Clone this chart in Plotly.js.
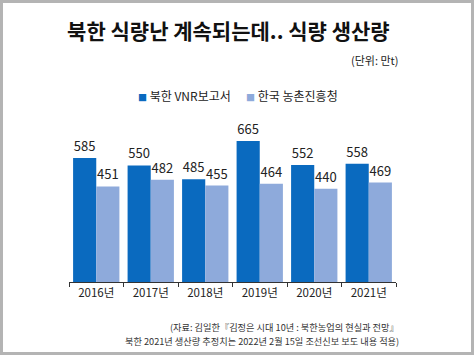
<!DOCTYPE html>
<html>
<head>
<meta charset="utf-8">
<script src="https://cdn.plot.ly/plotly-3.0.1.min.js"></script>
<style>
html,body{margin:0;padding:0;background:#fff;}
#wrap{position:relative;width:474px;height:355px;}
#chart{position:absolute;left:0;top:0;width:474px;height:355px;}
#frame{position:absolute;left:0;top:0;width:474px;height:355px;box-sizing:border-box;border:3px solid #b4b4b4;pointer-events:none;}
</style>
</head>
<body>
<div id="wrap"><div id="chart"></div><div id="frame"></div></div>
<script>
const categories = ['2016년','2017년','2018년','2019년','2020년','2021년'];
const seriesNames = ['북한 VNR보고서','한국 농촌진흥청'];
const northVNR = [585, 550, 485, 665, 552, 558];
const southRDA = [451, 482, 455, 464, 440, 469];
const colors = ['#0a6abf', '#8eaadb'];
const FONT = '"Noto Sans CJK KR", "Noto Sans", sans-serif';

const makeTrace = (vals, i) => ({
  type: 'bar',
  x: categories,
  y: vals,
  name: seriesNames[i],
  marker: {color: colors[i]},
  text: vals.map(String),
  textposition: 'outside',
  cliponaxis: false,
  textfont: {family: FONT, size: 13, color: '#222'},
  hoverinfo: 'none',
  showlegend: false
});

const data = [makeTrace(northVNR, 0), makeTrace(southRDA, 1)];

const legendAnn = [];
const legendX = [136, 244];
seriesNames.forEach((n, i) => {
  legendAnn.push({xref:'paper', yref:'paper', x: (legendX[i]-69)/327, y: 0, yshift: 282-95, xanchor:'left', yanchor:'middle',
    text: '<span style="color:'+colors[i]+';font-size:9px">■</span> ' + n, showarrow:false,
    font:{family: FONT, size: 12, color:'#222'}});
});

const layout = {
  width: 474, height: 355,
  margin: {l: 69, r: 78, t: 105, b: 73},
  paper_bgcolor: '#fff', plot_bgcolor: '#fff',
  barmode: 'group',
  bargap: 0.15,
  bargroupgap: 0,
  showlegend: false,
  title: {text: '북한 식량난 계속되는데.. 식량 생산량', x: 231/474, xanchor: 'center', xref: 'paper',
          y: 1 - 32/355, yanchor: 'middle', yref: 'container',
          font: {family: FONT, size: 21, color: '#111', weight: 'bold'}},
  xaxis: {
    type: 'category', showline: true, linecolor: '#333', linewidth: 1,
    ticks: 'outside', tickson: 'boundaries', ticklen: 4, tickcolor: '#333',
    tickfont: {family: FONT, size: 11.5, color: '#222'}, showgrid: false, zeroline: false, fixedrange: true
  },
  yaxis: {range: [0, 835], visible: false, showgrid: false, zeroline: false, fixedrange: true},
  annotations: legendAnn.concat([
    {xref:'paper', yref:'paper', x: (400-69)/327, y: 1, yshift: 105-60, xanchor:'right', yanchor:'middle',
     text:'(단위: 만t)', showarrow:false, font:{family: FONT, size: 11, color:'#222'}},
    {xref:'paper', yref:'paper', x: (401-69)/327, y: 0, yshift: 282-327, xanchor:'right', yanchor:'middle',
     text:'(자료: 김일한『김정은 시대 10년 : 북한농업의 현실과 전망』', showarrow:false, font:{family: FONT, size: 9.2, color:'#333'}},
    {xref:'paper', yref:'paper', x: (401-69)/327, y: 0, yshift: 282-341, xanchor:'right', yanchor:'middle',
     text:'북한 2021년 생산량 추정치는 2022년 2월 15일 조선신보 보도 내용 적용)', showarrow:false, font:{family: FONT, size: 9.2, color:'#333'}}
  ])
};

Plotly.newPlot('chart', data, layout, {staticPlot: true, displayModeBar: false});
</script>
</body>
</html>
